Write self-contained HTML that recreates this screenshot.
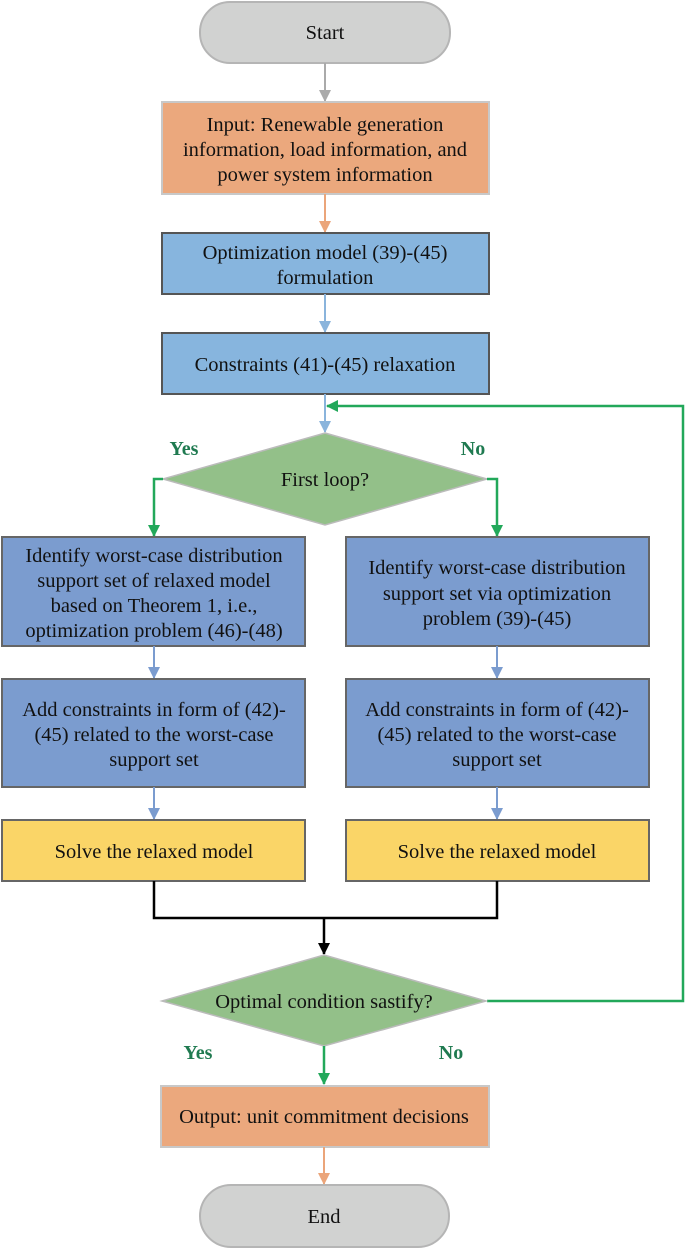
<!DOCTYPE html>
<html><head><meta charset="utf-8"><style>
html,body{margin:0;padding:0;background:#fff;}
svg text{font-family:"Liberation Serif",serif;font-size:20.5px;fill:#111;text-anchor:middle;}
.lab{fill:#1f7a50;font-weight:bold;font-size:20px;}
</style></head><body>
<svg width="685" height="1249" viewBox="0 0 685 1249" xmlns="http://www.w3.org/2000/svg">
<defs>
<marker id="ag" markerWidth="12" markerHeight="12" refX="11" refY="6" orient="auto" markerUnits="userSpaceOnUse"><path d="M0,0 L12,6 L0,12 z" fill="#aaa"/></marker>
<marker id="ao" markerWidth="12" markerHeight="12" refX="11" refY="6" orient="auto" markerUnits="userSpaceOnUse"><path d="M0,0 L12,6 L0,12 z" fill="#eba57a"/></marker>
<marker id="ab" markerWidth="12" markerHeight="12" refX="11" refY="6" orient="auto" markerUnits="userSpaceOnUse"><path d="M0,0 L12,6 L0,12 z" fill="#8ab4dc"/></marker>
<marker id="ab2" markerWidth="12" markerHeight="12" refX="11" refY="6" orient="auto" markerUnits="userSpaceOnUse"><path d="M0,0 L12,6 L0,12 z" fill="#7b9ccf"/></marker>
<marker id="agr" markerWidth="12" markerHeight="12" refX="11" refY="6" orient="auto" markerUnits="userSpaceOnUse"><path d="M0,0 L12,6 L0,12 z" fill="#22a85a"/></marker>
<marker id="ak" markerWidth="12" markerHeight="12" refX="11" refY="6" orient="auto" markerUnits="userSpaceOnUse"><path d="M0,0 L12,6 L0,12 z" fill="#000"/></marker>
</defs>
<rect x="200" y="2" width="250" height="61" rx="30" fill="#d1d2d1" stroke="#b5b5b5" stroke-width="2"/>
<text x="325" y="39">Start</text>
<line x1="325" y1="63" x2="325" y2="101" stroke="#aaa" stroke-width="2" marker-end="url(#ag)"/>
<rect x="162" y="102" width="327" height="92" fill="#eba87d" stroke="#c8c8c8" stroke-width="2"/>
<text x="325" y="131">Input: Renewable generation</text>
<text x="325" y="156">information, load information, and</text>
<text x="325" y="181">power system information</text>
<line x1="325" y1="194" x2="325" y2="232" stroke="#eba57a" stroke-width="2" marker-end="url(#ao)"/>
<rect x="162" y="233" width="327" height="61" fill="#87b5de" stroke="#555" stroke-width="2"/>
<text x="325" y="259">Optimization  model (39)-(45)</text>
<text x="325" y="284">formulation</text>
<line x1="325" y1="294" x2="325" y2="332" stroke="#8ab4dc" stroke-width="2" marker-end="url(#ab)"/>
<rect x="162" y="333" width="327" height="61" fill="#87b5de" stroke="#555" stroke-width="2"/>
<text x="325" y="371">Constraints (41)-(45) relaxation</text>
<line x1="325" y1="394" x2="325" y2="432" stroke="#8ab4dc" stroke-width="2" marker-end="url(#ab)"/>
<polyline points="487,1001 683,1001 683,406 327,406" fill="none" stroke="#22a85a" stroke-width="2.5" marker-end="url(#agr)"/>
<polygon points="325,433 487,479 325,525 163,479" fill="#93c089" stroke="#bbb" stroke-width="1.5"/>
<text x="325" y="486">First loop?</text>
<text class="lab" x="184" y="455">Yes</text>
<text class="lab" x="473" y="455">No</text>
<polyline points="163,479 154,479 154,536" fill="none" stroke="#22a85a" stroke-width="2.5" marker-end="url(#agr)"/>
<polyline points="487,479 497,479 497,536" fill="none" stroke="#22a85a" stroke-width="2.5" marker-end="url(#agr)"/>
<rect x="2" y="537" width="303" height="109" fill="#7b9ccf" stroke="#666" stroke-width="2"/>
<text x="154" y="562">Identify worst-case distribution</text>
<text x="154" y="587">support set of relaxed model</text>
<text x="154" y="612">based on Theorem 1, i.e.,</text>
<text x="154" y="637">optimization problem (46)-(48)</text>
<line x1="154" y1="646" x2="154" y2="678" stroke="#7b9ccf" stroke-width="2" marker-end="url(#ab2)"/>
<rect x="2" y="679" width="303" height="108" fill="#7b9ccf" stroke="#666" stroke-width="2"/>
<text x="154" y="716">Add constraints in form of (42)-</text>
<text x="154" y="741">(45) related to the worst-case</text>
<text x="154" y="766">support set</text>
<line x1="154" y1="787" x2="154" y2="819" stroke="#7b9ccf" stroke-width="2" marker-end="url(#ab2)"/>
<rect x="2" y="820" width="303" height="61" fill="#fad567" stroke="#666" stroke-width="2"/>
<text x="154" y="858">Solve the relaxed model</text>
<rect x="346" y="537" width="303" height="109" fill="#7b9ccf" stroke="#666" stroke-width="2"/>
<text x="497" y="574">Identify worst-case distribution</text>
<text x="497" y="600">support set via optimization</text>
<text x="497" y="625">problem (39)-(45)</text>
<line x1="497" y1="646" x2="497" y2="678" stroke="#7b9ccf" stroke-width="2" marker-end="url(#ab2)"/>
<rect x="346" y="679" width="303" height="108" fill="#7b9ccf" stroke="#666" stroke-width="2"/>
<text x="497" y="716">Add constraints in form of (42)-</text>
<text x="497" y="741">(45) related to the worst-case</text>
<text x="497" y="766">support set</text>
<line x1="497" y1="787" x2="497" y2="819" stroke="#7b9ccf" stroke-width="2" marker-end="url(#ab2)"/>
<rect x="346" y="820" width="303" height="61" fill="#fad567" stroke="#666" stroke-width="2"/>
<text x="497" y="858">Solve the relaxed model</text>
<polyline points="154,881 154,918 497,918 497,881" fill="none" stroke="#000" stroke-width="2.5"/>
<line x1="324" y1="918" x2="324" y2="954" stroke="#000" stroke-width="2.5" marker-end="url(#ak)"/>
<polygon points="324,955 486,1001 324,1046 162,1001" fill="#93c089" stroke="#bbb" stroke-width="1.5"/>
<text x="324" y="1008">Optimal condition sastify?</text>
<text class="lab" x="198" y="1059">Yes</text>
<text class="lab" x="451" y="1059">No</text>
<line x1="324" y1="1046" x2="324" y2="1084" stroke="#22a85a" stroke-width="2.5" marker-end="url(#agr)"/>
<rect x="161" y="1086" width="328" height="61" fill="#eba87d" stroke="#c8c8c8" stroke-width="2"/>
<text x="324" y="1123">Output: unit commitment decisions</text>
<line x1="324" y1="1147" x2="324" y2="1184" stroke="#eba57a" stroke-width="2" marker-end="url(#ao)"/>
<rect x="200" y="1185" width="249" height="62" rx="31" fill="#d1d2d1" stroke="#b5b5b5" stroke-width="2"/>
<text x="324" y="1223">End</text>
</svg>
</body></html>
